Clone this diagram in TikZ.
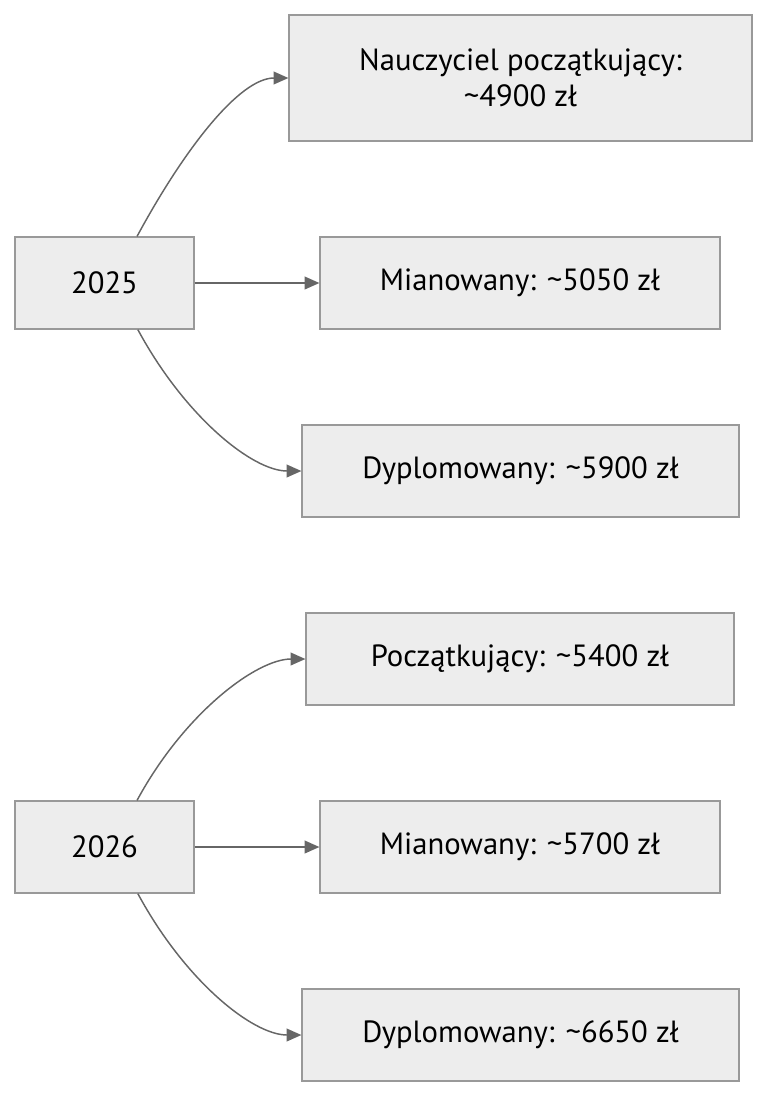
\documentclass[tikz,border=0pt]{standalone}
\usepackage{fontspec}
\setmainfont{PT Sans}
\usetikzlibrary{arrows.meta}
\begin{document}
\begin{tikzpicture}[x=0.75pt,y=-0.75pt,
  box/.style={draw=black!40,fill=black!7,line width=0.9pt,inner sep=0pt,font=\fontsize{23}{27}\selectfont,align=center,minimum height=69pt},
  conn/.style={draw=black!60,line width=1.1pt,-{Triangle[length=11pt,width=9.5pt]}}]
\useasboundingbox (0,0) rectangle (768,1097);
\node[box,minimum width=134.25pt] (y25) at (104.5,283) {2025};
\node[box,minimum width=347.25pt,minimum height=94.5pt] (n25) at (520.5,78) {Nauczyciel początkujący:\\\textasciitilde4900 zł};
\node[box,minimum width=300pt] (m25) at (520,283) {Mianowany: \textasciitilde5050 zł};
\node[box,minimum width=327.75pt] (d25) at (520.5,471) {Dyplomowany: \textasciitilde5900 zł};
\node[box,minimum width=134.25pt] (y26) at (104.5,847) {2026};
\node[box,minimum width=321pt] (p26) at (520,659) {Początkujący: \textasciitilde5400 zł};
\node[box,minimum width=300pt] (m26) at (520,847) {Mianowany: \textasciitilde5700 zł};
\node[box,minimum width=327.75pt] (d26) at (520.5,1035) {Dyplomowany: \textasciitilde6650 zł};
\draw[conn] ([xshift=24.4pt]y25.north) .. controls +(47,-87) and +(-49,0) .. (n25.west);
\draw[conn] (y25.east) -- (m25.west);
\draw[conn] ([xshift=25pt]y25.south) .. controls +(47,87) and +(-49,0) .. (d25.west);
\draw[conn] ([xshift=24.4pt]y26.north) .. controls +(47,-87) and +(-49,0) .. (p26.west);
\draw[conn] (y26.east) -- (m26.west);
\draw[conn] ([xshift=25pt]y26.south) .. controls +(47,87) and +(-49,0) .. (d26.west);
\end{tikzpicture}
\end{document}
